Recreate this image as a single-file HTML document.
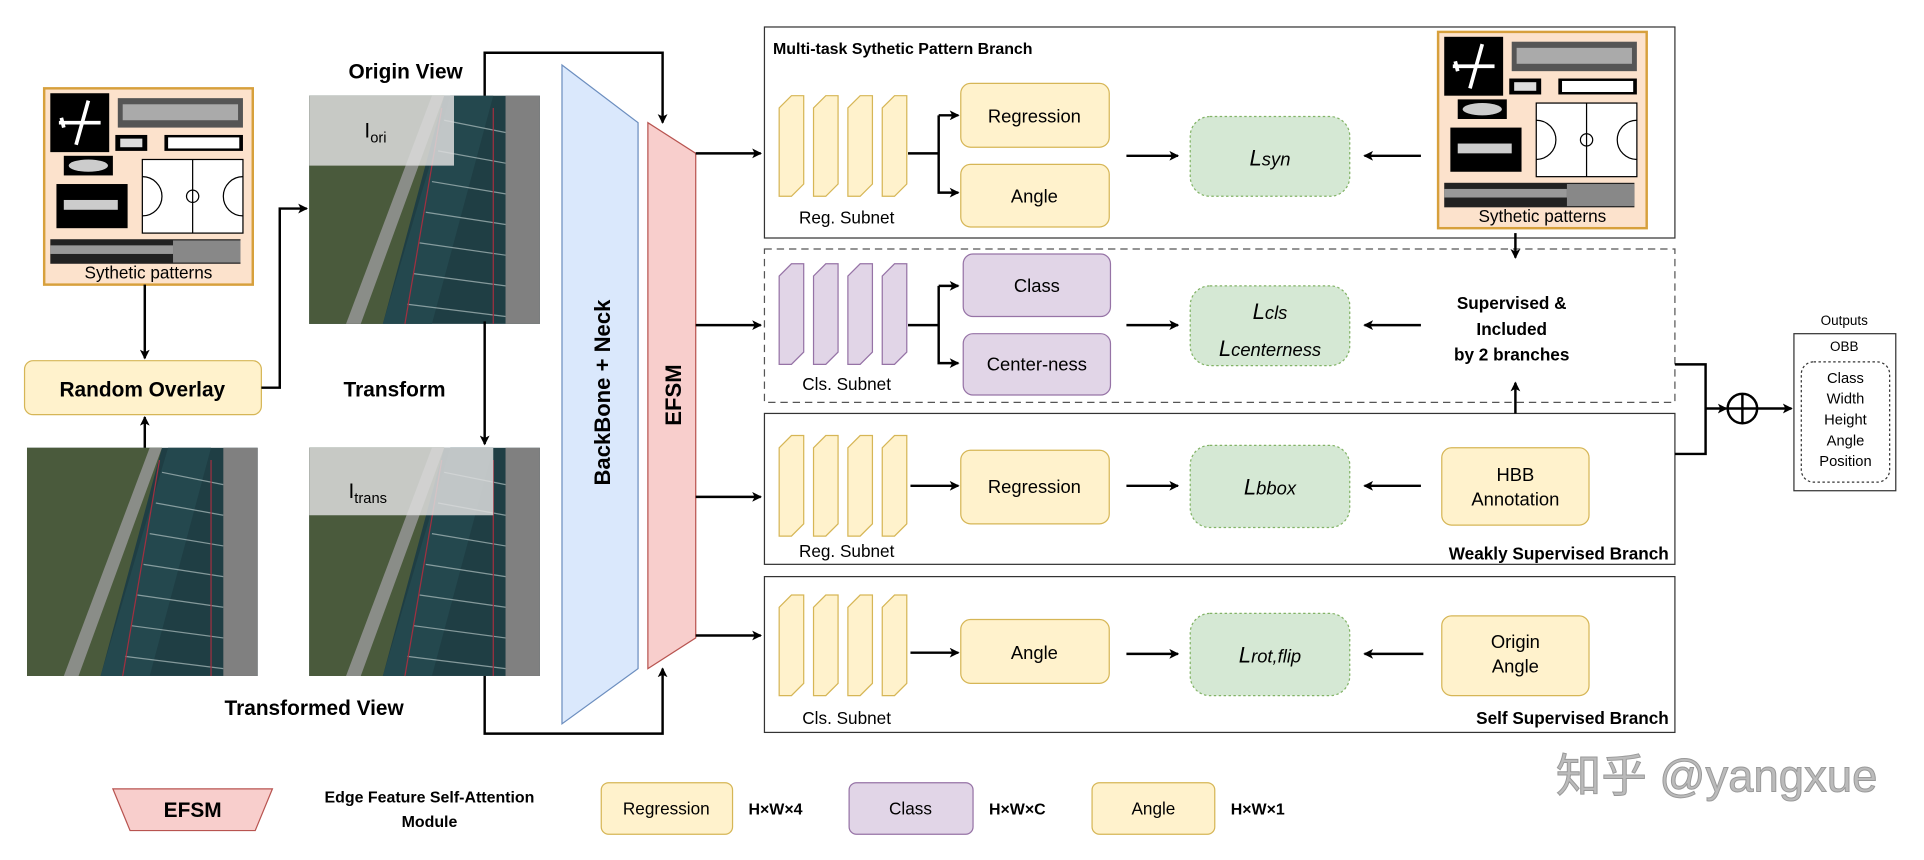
<!DOCTYPE html>
<html><head><meta charset="utf-8"><style>
html,body{margin:0;padding:0;background:#fff;}
svg{display:block;}
text{font-family:"Liberation Sans","Noto Sans CJK SC",sans-serif;}
</style></head><body>
<svg width="1924" height="860" viewBox="0 0 1568 701" preserveAspectRatio="none" xmlns="http://www.w3.org/2000/svg">
<defs>
<marker id="a" markerWidth="8" markerHeight="8" refX="7" refY="4" orient="auto" markerUnits="userSpaceOnUse"><path d="M0,0 L8,4 L0,8 L2,4 z" fill="#000"/></marker>
<g id="synth">
 <rect x="0" y="0" width="170" height="160" fill="#fce2cc" stroke="#d7a03c" stroke-width="2"/>
 <rect x="5" y="4" width="48" height="48" fill="#000"/>
 <path d="M12,28 L46,28 M36,10 L26,46 M14,24 L16,32" stroke="#fff" stroke-width="3"/>
 <rect x="60" y="8" width="102" height="24" fill="#555"/><rect x="64" y="13" width="94" height="13" fill="#aaa"/>
 <rect x="58" y="38" width="26" height="13" fill="#000"/><rect x="62" y="41" width="18" height="7" fill="#ddd"/>
 <rect x="98" y="38" width="64" height="13" fill="#000"/><rect x="101" y="40" width="58" height="9" fill="#fff"/>
 <rect x="16" y="55" width="40" height="16" fill="#000"/><ellipse cx="36" cy="63" rx="16" ry="5" fill="#ccc"/>
 <rect x="10" y="78" width="58" height="36" fill="#000"/><rect x="16" y="91" width="44" height="8" fill="#ccc"/>
 <rect x="80" y="58" width="82" height="60" fill="#fff" stroke="#000"/>
 <line x1="121" y1="58" x2="121" y2="118" stroke="#000"/><circle cx="121" cy="88" r="5" fill="none" stroke="#000"/>
 <path d="M80,72 A16,16 0 0 1 80,104 M162,72 A16,16 0 0 0 162,104" fill="none" stroke="#000"/>
 <rect x="5" y="123" width="155" height="20" fill="#222"/><rect x="5" y="128" width="100" height="7" fill="#999"/><rect x="105" y="124" width="55" height="18" fill="#888"/>
 <text x="85" y="155" font-size="14" text-anchor="middle">Sythetic patterns</text>
</g>
<g id="aerial">
 <rect x="0" y="0" width="188" height="186" fill="#1f3e44"/>
 <path d="M0,0 L110,0 L60,186 L0,186 z" fill="#4a5a3c"/>
 <path d="M30,186 L100,0 L110,0 L42,186 z" fill="#8a8d88"/>
 <path d="M60,186 L115,0 L150,0 L100,186z" fill="#24484e"/>
 <g stroke="#b0c0c0" stroke-width="1" opacity=".7">
 <path d="M110,20 L160,30 M105,45 L160,55 M100,70 L160,80 M95,95 L160,105 M90,120 L160,130 M85,145 L160,155 M80,170 L160,180"/>
 </g>
 <g stroke="#a03040" stroke-width="1" fill="none"><path d="M108,10 L78,186 M150,10 L150,186"/></g>
 <rect x="160" y="0" width="28" height="186" fill="#808080"/>
</g>
</defs>

<use href="#synth" x="36" y="72"/>
<line x1="118" y1="232" x2="118" y2="292" stroke="#000" stroke-width="2" marker-end="url(#a)"/>
<rect x="20" y="294" width="193" height="44" rx="7" fill="#fff2cc" stroke="#d6b656"/>
<text x="116" y="323" font-size="17" font-weight="bold" text-anchor="middle">Random Overlay</text>
<use href="#aerial" x="22" y="365"/>
<line x1="118" y1="365" x2="118" y2="340" stroke="#000" stroke-width="2" marker-end="url(#a)"/>
<polyline points="213,316 228,316 228,170 250,170" fill="none" stroke="#000" stroke-width="2" marker-end="url(#a)"/>

<text x="284" y="64" font-size="17" font-weight="bold">Origin View</text>
<use href="#aerial" x="252" y="78"/>
<rect x="252" y="78" width="118" height="57" fill="#ddd" opacity=".85"/>
<text x="297" y="112" font-size="17">I<tspan font-size="12" dy="4">ori</tspan></text>
<text x="280" y="323" font-size="17" font-weight="bold">Transform</text>
<use href="#aerial" x="252" y="365"/>
<rect x="252" y="365" width="150" height="55" fill="#ddd" opacity=".85"/>
<text x="284" y="406" font-size="17">I<tspan font-size="12" dy="4">trans</tspan></text>
<text x="183" y="583" font-size="17" font-weight="bold">Transformed View</text>

<polyline points="395,78 395,43 540,43 540,100" fill="none" stroke="#000" stroke-width="2" marker-end="url(#a)"/>
<line x1="395" y1="262" x2="395" y2="362" stroke="#000" stroke-width="2" marker-end="url(#a)"/>
<polyline points="395,551 395,598 540,598 540,545" fill="none" stroke="#000" stroke-width="2" marker-end="url(#a)"/>

<polygon points="458,53 520,100 520,545 458,590" fill="#dae8fc" stroke="#6c8ebf"/>
<text transform="translate(497,320) rotate(-90)" font-size="18" font-weight="bold" text-anchor="middle">BackBone + Neck</text>
<polygon points="528,100 567,125 567,520 528,545" fill="#f8cecc" stroke="#b85450"/>
<text transform="translate(555,322) rotate(-90)" font-size="18" font-weight="bold" text-anchor="middle">EFSM</text>
<g stroke="#000" stroke-width="2" marker-end="url(#a)">
<line x1="567" y1="125" x2="620" y2="125"/><line x1="567" y1="265" x2="620" y2="265"/>
<line x1="567" y1="405" x2="620" y2="405"/><line x1="567" y1="518" x2="620" y2="518"/>
</g>

<rect x="623" y="22" width="742" height="172" fill="none" stroke="#333"/>
<rect x="623" y="203" width="742" height="125" fill="none" stroke="#555" stroke-dasharray="6,4"/>
<rect x="623" y="337" width="742" height="123" fill="none" stroke="#333"/>
<rect x="623" y="470" width="742" height="127" fill="none" stroke="#333"/>
<text x="630" y="44" font-size="13" font-weight="bold">Multi-task Sythetic Pattern Branch</text>
<text x="1360" y="456" font-size="14" font-weight="bold" text-anchor="end">Weakly Supervised Branch</text>
<text x="1360" y="590" font-size="14" font-weight="bold" text-anchor="end">Self Supervised Branch</text>

<g fill="#fff2cc" stroke="#d6b656">
<g id="sl"><polygon points="635,88 645,78 655,78 655,150 645,160 635,160"/><polygon points="663,88 673,78 683,78 683,150 673,160 663,160"/><polygon points="691,88 701,78 711,78 711,150 701,160 691,160"/><polygon points="719,88 729,78 739,78 739,150 729,160 719,160"/></g>
<use href="#sl" y="277"/><use href="#sl" y="407"/>
</g>
<g fill="#e1d5e7" stroke="#9673a6"><use href="#sl" y="137"/></g>
<g font-size="14" text-anchor="middle">
<text x="690" y="182">Reg. Subnet</text><text x="690" y="318">Cls. Subnet</text>
<text x="690" y="454">Reg. Subnet</text><text x="690" y="590">Cls. Subnet</text>
</g>
<g stroke="#000" stroke-width="2" fill="none">
<line x1="740" y1="125" x2="765" y2="125"/>
<polyline points="765,94 765,157 781,157" marker-end="url(#a)"/>
<line x1="765" y1="94" x2="781" y2="94" marker-end="url(#a)"/>
<line x1="740" y1="265" x2="765" y2="265"/>
<polyline points="765,233 765,296 781,296" marker-end="url(#a)"/>
<line x1="765" y1="233" x2="781" y2="233" marker-end="url(#a)"/>
<line x1="742" y1="396" x2="781" y2="396" marker-end="url(#a)"/>
<line x1="742" y1="532" x2="781" y2="532" marker-end="url(#a)"/>
</g>
<g fill="#fff2cc" stroke="#d6b656">
<rect x="783" y="68" width="121" height="52" rx="8"/><rect x="783" y="134" width="121" height="51" rx="8"/>
<rect x="783" y="367" width="121" height="60" rx="8"/><rect x="783" y="505" width="121" height="52" rx="8"/>
<rect x="1175" y="365" width="120" height="63" rx="8"/><rect x="1175" y="502" width="120" height="65" rx="8"/>
</g>
<g fill="#e1d5e7" stroke="#9673a6">
<rect x="785" y="207" width="120" height="51" rx="8"/><rect x="785" y="272" width="120" height="50" rx="8"/>
</g>
<g font-size="15" text-anchor="middle">
<text x="843" y="100">Regression</text><text x="843" y="165">Angle</text>
<text x="845" y="238">Class</text><text x="845" y="302">Center-ness</text>
<text x="843" y="402">Regression</text><text x="843" y="537">Angle</text>
<text x="1235" y="392">HBB</text><text x="1235" y="412">Annotation</text>
<text x="1235" y="528">Origin</text><text x="1235" y="548">Angle</text>
</g>
<g fill="#d5e8d4" stroke="#82b366" stroke-dasharray="2,2">
<rect x="970" y="95" width="130" height="65" rx="16"/><rect x="970" y="233" width="130" height="65" rx="16"/>
<rect x="970" y="363" width="130" height="67" rx="16"/><rect x="970" y="500" width="130" height="67" rx="16"/>
</g>
<g font-size="18" font-style="italic" text-anchor="middle">
<text x="1035" y="135">L<tspan font-size="15">syn</tspan></text>
<text x="1035" y="260">L<tspan font-size="15">cls</tspan></text>
<text x="1035" y="290">L<tspan font-size="15">centerness</tspan></text>
<text x="1035" y="403">L<tspan font-size="15">bbox</tspan></text>
<text x="1035" y="540">L<tspan font-size="15">rot,flip</tspan></text>
</g>
<g stroke="#000" stroke-width="2" marker-end="url(#a)">
<line x1="918" y1="127" x2="960" y2="127"/><line x1="918" y1="265" x2="960" y2="265"/>
<line x1="918" y1="396" x2="960" y2="396"/><line x1="918" y1="533" x2="960" y2="533"/>
<line x1="1158" y1="127" x2="1112" y2="127"/><line x1="1158" y1="265" x2="1112" y2="265"/>
<line x1="1158" y1="396" x2="1112" y2="396"/><line x1="1160" y1="533" x2="1112" y2="533"/>
<line x1="1235" y1="190" x2="1235" y2="210"/><line x1="1235" y1="337" x2="1235" y2="312"/>
</g>
<use href="#synth" x="1172" y="26"/>
<g font-size="14" font-weight="bold" text-anchor="middle">
<text x="1232" y="252">Supervised &amp;</text><text x="1232" y="273">Included</text><text x="1232" y="294">by 2 branches</text>
</g>

<polyline points="1365,297 1390,297 1390,370 1365,370" fill="none" stroke="#000" stroke-width="2"/>
<line x1="1390" y1="333" x2="1407" y2="333" stroke="#000" stroke-width="2" marker-end="url(#a)"/>
<circle cx="1420" cy="333" r="12" fill="#fff" stroke="#000" stroke-width="2"/>
<path d="M1408,333 H1432 M1420,321 V345" stroke="#000" stroke-width="2"/>
<line x1="1432" y1="333" x2="1460" y2="333" stroke="#000" stroke-width="2" marker-end="url(#a)"/>
<text x="1503" y="265" font-size="11" text-anchor="middle">Outputs</text>
<rect x="1462" y="272" width="83" height="128" fill="#fff" stroke="#333"/>
<text x="1503" y="286" font-size="11" text-anchor="middle">OBB</text>
<rect x="1468" y="295" width="72" height="98" rx="10" fill="none" stroke="#333" stroke-dasharray="2,2"/>
<g font-size="12" text-anchor="middle"><text x="1504" y="312">Class</text><text x="1504" y="329">Width</text><text x="1504" y="346">Height</text><text x="1504" y="363">Angle</text><text x="1504" y="380">Position</text></g>

<polygon points="92,643 222,643 208,677 106,677" fill="#f8cecc" stroke="#b85450"/>
<text x="157" y="666" font-size="17" font-weight="bold" text-anchor="middle">EFSM</text>
<text x="350" y="654" font-size="13" font-weight="bold" text-anchor="middle">Edge Feature Self-Attention</text>
<text x="350" y="674" font-size="13" font-weight="bold" text-anchor="middle">Module</text>
<rect x="490" y="638" width="107" height="42" rx="6" fill="#fff2cc" stroke="#d6b656"/>
<text x="543" y="664" font-size="14" text-anchor="middle">Regression</text>
<text x="610" y="664" font-size="13" font-weight="bold">H×W×4</text>
<rect x="692" y="638" width="101" height="42" rx="6" fill="#e1d5e7" stroke="#9673a6"/>
<text x="742" y="664" font-size="14" text-anchor="middle">Class</text>
<text x="806" y="664" font-size="13" font-weight="bold">H×W×C</text>
<rect x="890" y="638" width="100" height="42" rx="6" fill="#fff2cc" stroke="#d6b656"/>
<text x="940" y="664" font-size="14" text-anchor="middle">Angle</text>
<text x="1003" y="664" font-size="13" font-weight="bold">H×W×1</text>

<text x="1268" y="645" font-size="37" fill="#bbb" stroke="#999" stroke-width=".8" textLength="262">知乎 @yangxue</text>
</svg>
</body></html>
